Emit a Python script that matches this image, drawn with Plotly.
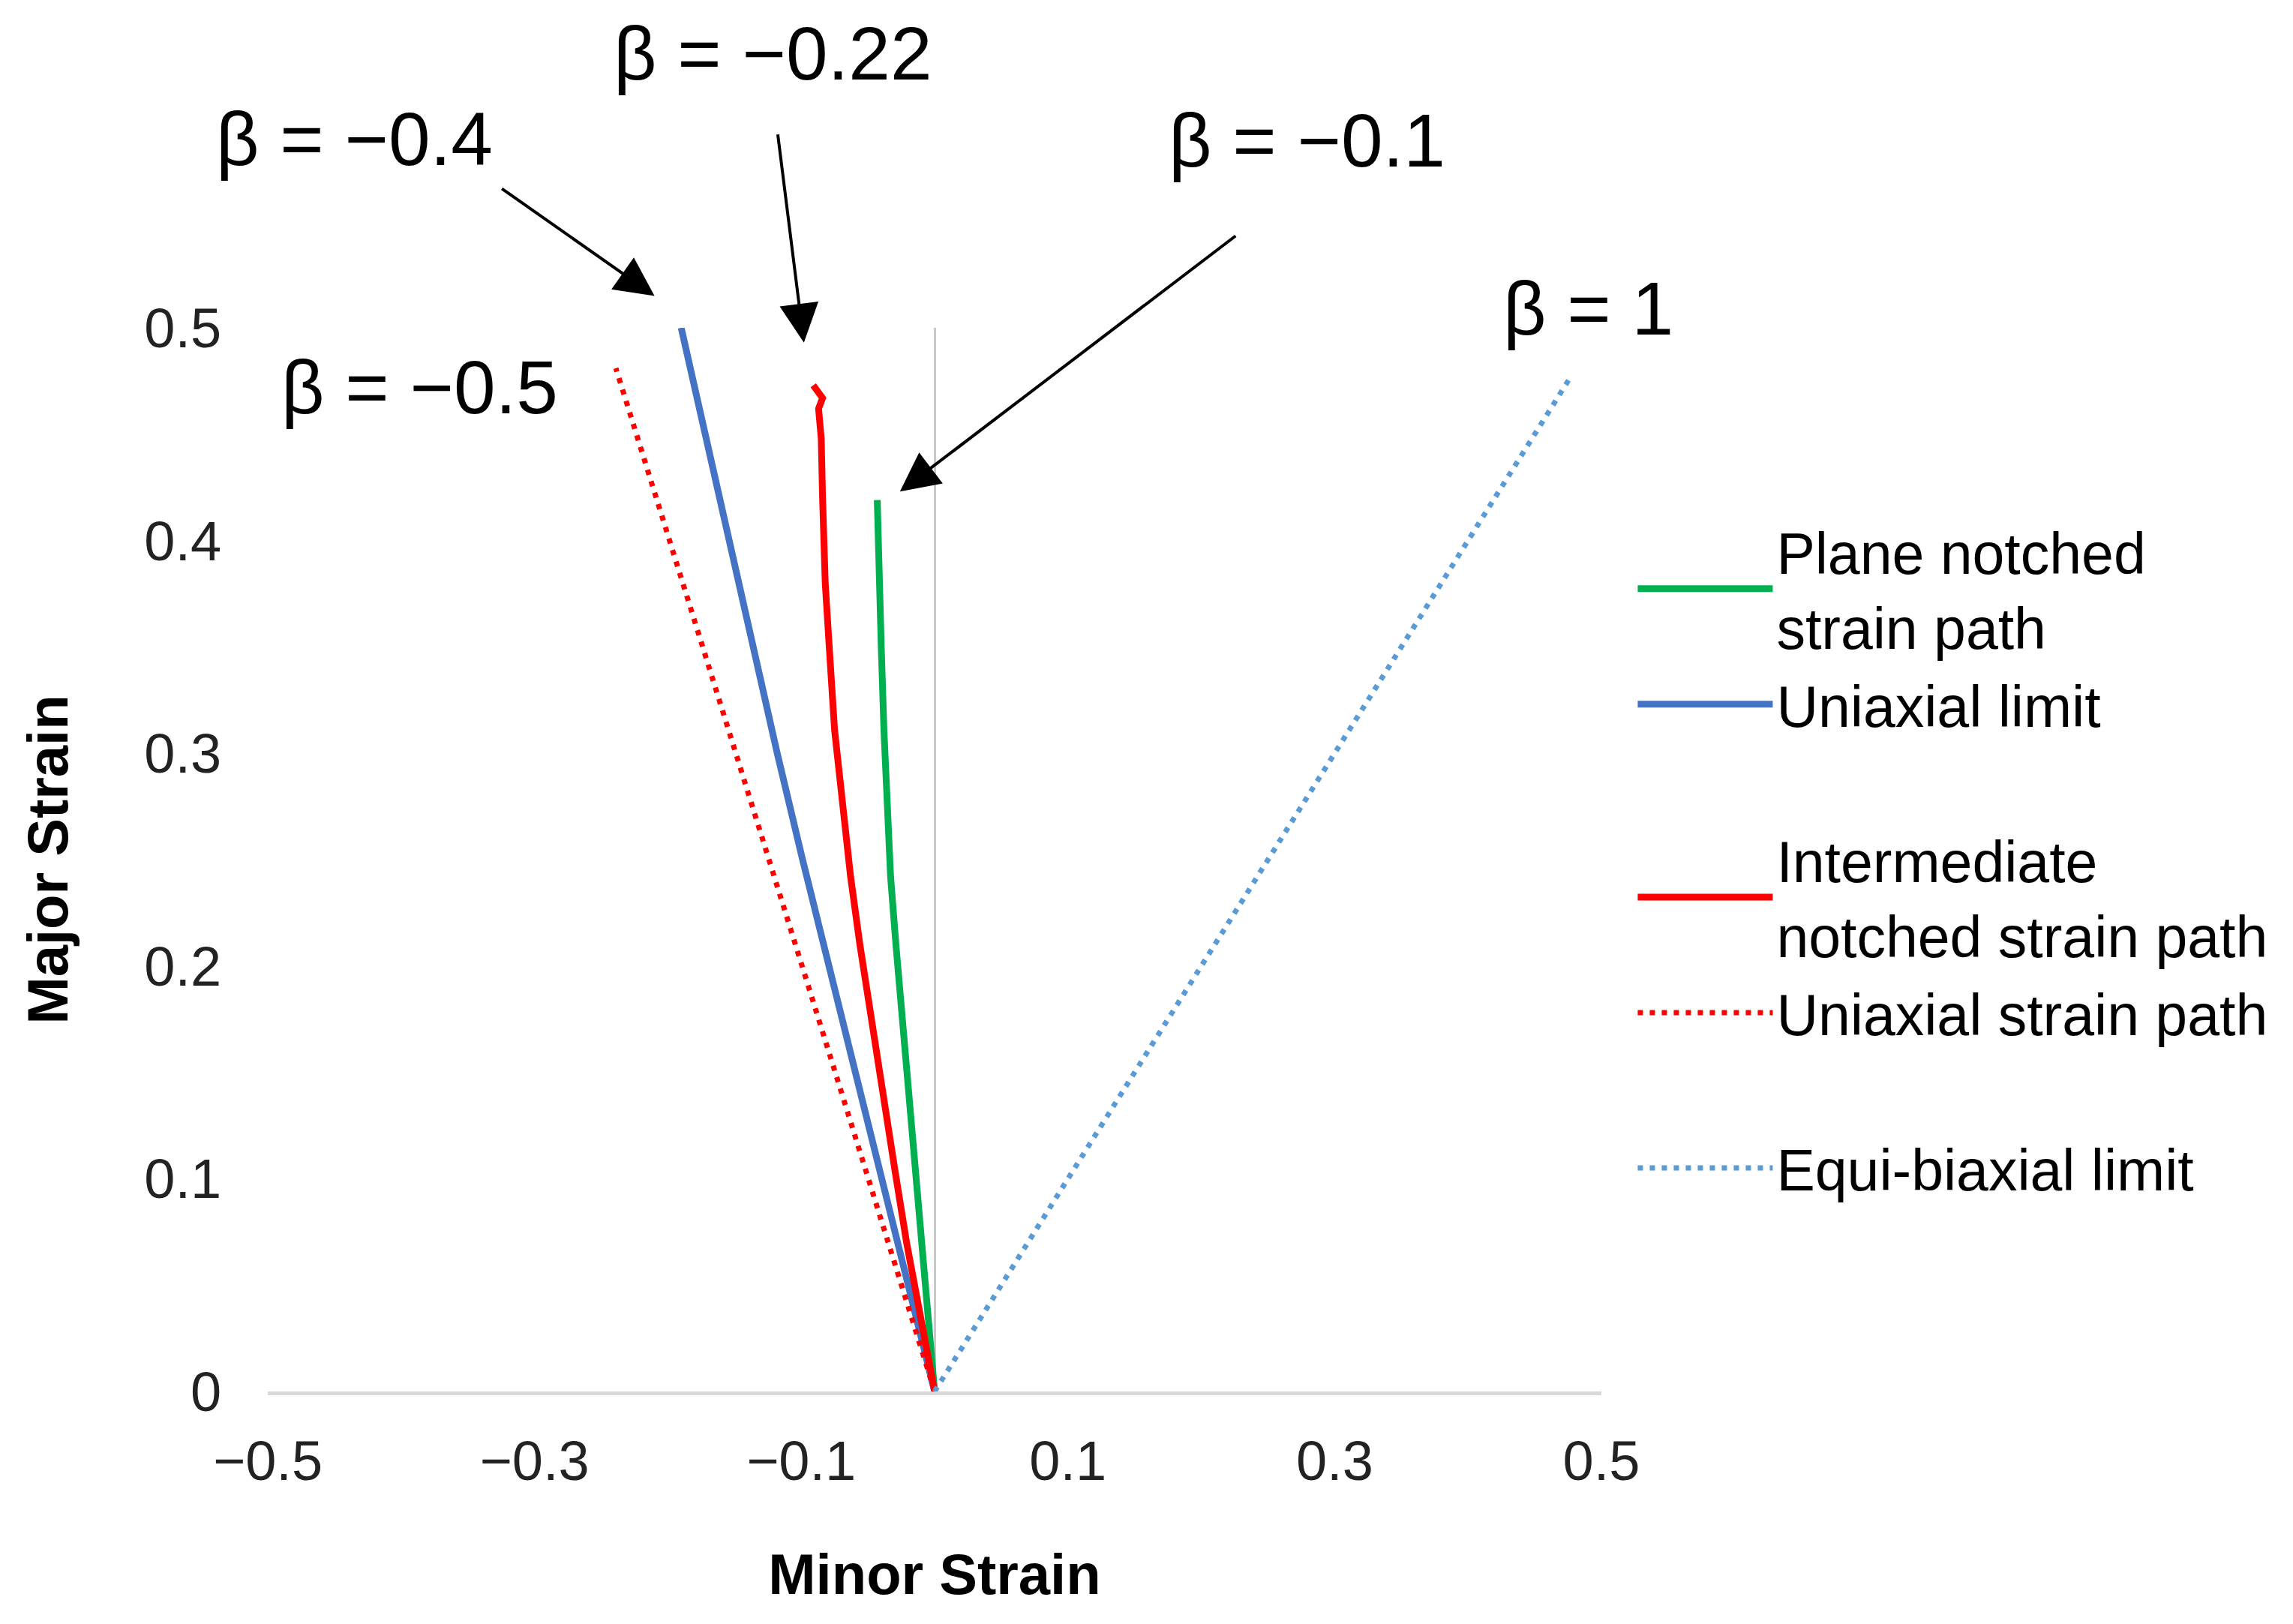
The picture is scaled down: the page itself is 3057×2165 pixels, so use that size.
import plotly.graph_objects as go

# ---- data ----
plane_x = [0.0, -0.005, -0.010, -0.015, -0.020, -0.025, -0.029, -0.033,
           -0.036, -0.038, -0.040, -0.041, -0.042, -0.043]
plane_y = [0.0, 0.036, 0.070, 0.105, 0.140, 0.173, 0.210, 0.242,
           0.280, 0.311, 0.350, 0.380, 0.400, 0.419]

uni_lim_x = [0.0, -0.020, -0.040, -0.060, -0.080, -0.099, -0.118, -0.136,
             -0.154, -0.172, -0.190]
uni_lim_y = [0.0, 0.05, 0.10, 0.15, 0.20, 0.25, 0.30, 0.35,
             0.40, 0.45, 0.50]

inter_x = [0.0, -0.011, -0.021, -0.030, -0.039, -0.047, -0.056, -0.063,
           -0.070, -0.075, -0.079, -0.082, -0.084, -0.085, -0.087, -0.084, -0.091]
inter_y = [0.0, 0.036, 0.070, 0.105, 0.140, 0.173, 0.210, 0.242,
           0.280, 0.311, 0.350, 0.380, 0.420, 0.448, 0.462, 0.467, 0.473]

uni_path_x = [0.0, -0.239]
uni_path_y = [0.0, 0.481]

equi_x = [0.0, 0.477]
equi_y = [0.0, 0.477]

x_ticks = [-0.5, -0.3, -0.1, 0.1, 0.3, 0.5]
x_ticktext = ["\u22120.5", "\u22120.3", "\u22120.1", "0.1", "0.3", "0.5"]
y_ticks = [0, 0.1, 0.2, 0.3, 0.4, 0.5]

X_RANGE = [-0.5, 0.5]
Y_RANGE = [0.0, 0.5]

# annotation labels: (text, x, y) in data units
beta_labels = [
    ("\u03b2 = \u22120.4", -0.435, 0.589),
    ("\u03b2 = \u22120.22", -0.121, 0.629),
    ("\u03b2 = \u22120.1", 0.279, 0.588),
    ("\u03b2 = 1", 0.490, 0.509),
    ("\u03b2 = \u22120.5", -0.386, 0.472),
]
# arrows: head (x, y) in data units, tail offset in pixels (dx, dy)
beta_arrows = [
    (-0.210, 0.515, -205, -144),
    (-0.098, 0.493, -35, -279),
    (-0.026, 0.423, 449, -342),
]


def to_paper_x(v):
    return (v - X_RANGE[0]) / (X_RANGE[1] - X_RANGE[0])


def to_paper_y(v):
    return (v - Y_RANGE[0]) / (Y_RANGE[1] - Y_RANGE[0])


FONT = "Liberation Sans, Arial, sans-serif"

fig = go.Figure()
fig.add_trace(go.Scatter(x=plane_x, y=plane_y, mode="lines", name="Plane notched<br>strain path",
                         line=dict(color="#00B050", width=9), legend="legend"))
fig.add_trace(go.Scatter(x=uni_lim_x, y=uni_lim_y, mode="lines", name="Uniaxial limit",
                         line=dict(color="#4472C4", width=9), legend="legend2"))
fig.add_trace(go.Scatter(x=inter_x, y=inter_y, mode="lines", name="Intermediate<br>notched strain path",
                         line=dict(color="#FF0000", width=9), legend="legend3"))
fig.add_trace(go.Scatter(x=uni_path_x, y=uni_path_y, mode="lines", name="Uniaxial strain path",
                         line=dict(color="#FF0000", width=7, dash="7px,9px"), legend="legend4"))
fig.add_trace(go.Scatter(x=equi_x, y=equi_y, mode="lines", name="Equi-biaxial limit",
                         line=dict(color="#5B9BD5", width=7, dash="7px,9px"), legend="legend5"))
for tr in fig.data:
    tr.cliponaxis = False

for text, x, y in beta_labels:
    fig.add_annotation(x=to_paper_x(x), y=to_paper_y(y), xref="paper", yref="paper",
                       xanchor="center", yanchor="middle",
                       text=text, showarrow=False,
                       font=dict(family=FONT, size=100, color="black"))

for hx, hy, dx, dy in beta_arrows:
    fig.add_annotation(x=to_paper_x(hx), y=to_paper_y(hy), xref="paper", yref="paper",
                       ax=dx, ay=dy, axref="pixel", ayref="pixel",
                       text="", showarrow=True, arrowhead=2, arrowsize=2.6, arrowwidth=4,
                       arrowcolor="black")

legend_common = dict(xanchor="left", yanchor="top",
                     font=dict(family=FONT, size=77, color="black"),
                     itemwidth=180, bgcolor="rgba(0,0,0,0)")
legend_tops = [0.830, 0.686, 0.540, 0.396, 0.250]
LEG_X = 1.0244

fig.update_layout(
    width=3057, height=2165,
    margin=dict(l=349, r=930, t=429, b=318),
    paper_bgcolor="white", plot_bgcolor="white",
    font=dict(family=FONT, size=74, color="#222222"),
    showlegend=True,
    legend=dict(x=LEG_X, y=legend_tops[0], **legend_common),
    legend2=dict(x=LEG_X, y=legend_tops[1], **legend_common),
    legend3=dict(x=LEG_X, y=legend_tops[2], **legend_common),
    legend4=dict(x=LEG_X, y=legend_tops[3], **legend_common),
    legend5=dict(x=LEG_X, y=legend_tops[4], **legend_common),
    xaxis=dict(range=X_RANGE, tickvals=x_ticks, ticktext=x_ticktext,
               showgrid=False, zeroline=True, zerolinecolor="#C8C8C8", zerolinewidth=3,
               showline=True, linecolor="#D9D9D9", linewidth=5,
               ticks="outside", ticklen=0, ticklabelstandoff=24,
               tickfont=dict(family=FONT, size=74, color="#222222"),
               title=dict(text="<b>Minor Strain</b>", standoff=86,
                          font=dict(family=FONT, size=76, color="black"))),
    yaxis=dict(range=Y_RANGE, tickvals=y_ticks, showgrid=False, zeroline=False,
               showline=False, ticks="outside", ticklen=0, ticklabelstandoff=46,
               tickfont=dict(family=FONT, size=74, color="#222222"),
               title=dict(text="<b>Major Strain</b>", standoff=76,
                          font=dict(family=FONT, size=76, color="black"))),
)

fig.write_html("out.html")
